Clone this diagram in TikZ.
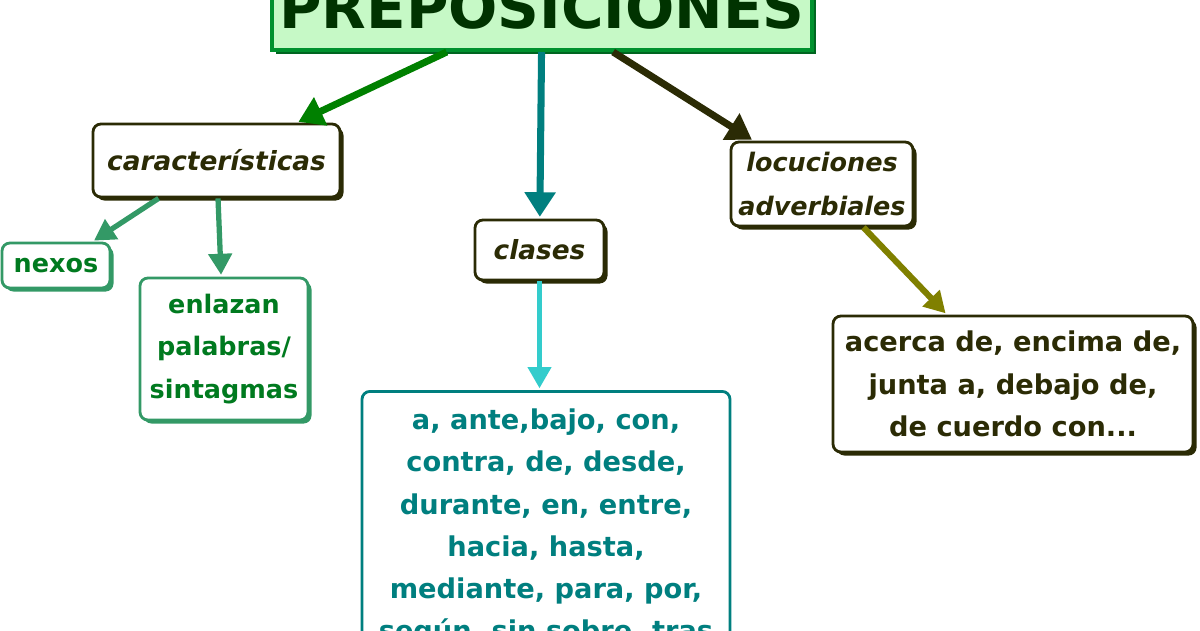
\documentclass[tikz,border=0pt]{standalone}
\usepackage{fontspec}
\setmainfont{DejaVu Sans}
\usetikzlibrary{arrows.meta}
\usetikzlibrary{shadows}
\usetikzlibrary{positioning}

\definecolor{titlefill}{HTML}{C6F9C6}
\definecolor{titleline}{HTML}{00912E}
\definecolor{titletext}{HTML}{003300}
\definecolor{darkline}{HTML}{2B2B05}
\definecolor{greenline}{HTML}{339966}
\definecolor{greentext}{HTML}{007A1F}
\definecolor{tealline}{HTML}{007F7F}
\definecolor{turq}{HTML}{33CCCC}
\definecolor{olive}{HTML}{808000}
\definecolor{arrgreen}{HTML}{008000}

\tikzset{
    box/.style={draw, fill=white, rounded corners=4.5pt, line width=1.6pt, align=center,
        font=\fontsize{15.5}{24}\selectfont\bfseries},
    darkbox/.style={box, draw=darkline, text=darkline,
        drop shadow={shadow xshift=2pt, shadow yshift=-2pt, fill=darkline, opacity=1}},
    greenbox/.style={box, draw=greenline, text=greentext, font=\fontsize{14.5}{24}\selectfont\bfseries,
        drop shadow={shadow xshift=2pt, shadow yshift=-2pt, fill=greenline, opacity=1}},
    tealbox/.style={box, draw=tealline, text=tealline},
    arr/.style={line width=#1, -{Triangle[length=12pt, width=13pt]}, shorten >=1pt},
    bigarr/.style={line width=4pt, -{Triangle[length=14pt, width=17pt]}, shorten >=1pt}
}

\begin{document}
\begin{tikzpicture}
                \useasboundingbox (0, 0) rectangle (24, -12.6);
                \clip (0, 0) rectangle (24, -12.6);

                % title
                \node (prep) at (10.84, -1.04) [anchor=south, draw=titleline, fill=titlefill, line width=2.2pt,
                    minimum width=10.8cm, inner ysep=12pt, text=titletext,
                    font=\fontsize{33}{33}\selectfont\bfseries,
                    drop shadow={shadow xshift=2.5pt, shadow yshift=-2.5pt, fill=titleline!70!black, opacity=1}]
                    {PREPOSICIONES};

                \node (carac) at (4.33, -3.21) [darkbox, minimum width=4.94cm, minimum height=1.46cm,
                    font=\fontsize{15}{24}\selectfont\bfseries]
                    {\itshape características};
                \node (clases) at (10.79, -5.0) [darkbox, minimum width=2.58cm, minimum height=1.2cm,
                    font=\fontsize{15}{24}\selectfont\bfseries]
                    {\itshape clases};
                \node (locu) at (16.44, -3.68) [darkbox, minimum width=3.64cm, minimum height=1.68cm,
                    font=\fontsize{14.5}{24.5}\selectfont\bfseries]
                    {\itshape locuciones\\ \itshape adverbiales};

                \node (nexos) at (1.12, -5.31) [greenbox, minimum width=2.16cm, minimum height=0.9cm]
                    {nexos};
                \node (enlaz) at (4.48, -6.98) [greenbox, minimum width=3.36cm, minimum height=2.84cm]
                    {enlazan\\ palabras/\\ sintagmas};

                \node (lista) at (10.92, -7.8) [tealbox, anchor=north, minimum width=7.36cm, inner ysep=10pt]
                    {a, ante,bajo, con,\\ contra, de, desde,\\ durante, en, entre,\\ hacia, hasta,\\
                     mediante, para, por,\\ según, sin sobre, tras};

                \node (acerca) at (20.26, -7.68) [darkbox, minimum width=7.2cm, minimum height=2.72cm]
                    {acerca de, encima de,\\ junta a, debajo de,\\ de cuerdo con...};

                % arrows
                \draw[bigarr, arrgreen] (prep) -- (carac);
                \draw[bigarr, tealline] (prep) -- (clases);
                \draw[bigarr, darkline] (prep) -- (locu);
                \draw[arr=3pt, greenline] (carac) -- (nexos);
                \draw[arr=3pt, greenline] (carac) -- (enlaz);
                \draw[arr=2.5pt, turq] (clases) -- (clases |- lista.north);
                \draw[arr=3.5pt, olive] (locu) -- (acerca);
            \end{tikzpicture}
\end{document}
